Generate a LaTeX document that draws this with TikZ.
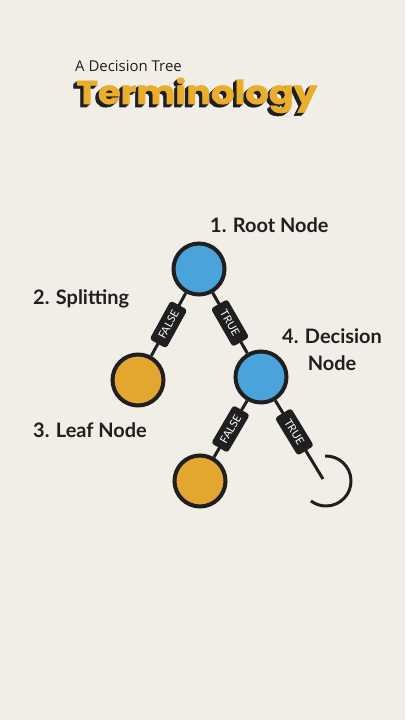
\documentclass[tikz,border=0pt]{standalone}
\usepackage{fontspec}
\setmainfont{Lato}
\newfontfamily\titlefont[BoldFeatures={FakeBold=1.6}]{Poppins}
\newfontfamily\subfont{Open Sans}
\usepackage{graphicx}

\definecolor{paper}{HTML}{F0EEE7}
\definecolor{ink}{HTML}{1F1F1F}
\definecolor{nodeblue}{HTML}{4AA3DA}
\definecolor{leafgold}{HTML}{E3A62E}
\definecolor{titlegold}{HTML}{EBAE2C}

% gold word with a dark shadow stepping down to the left
\newcommand{\shadowword}[1]{%
    \makebox[0pt][l]{\hspace{-3bp}\raisebox{-3bp}{\textcolor{ink}{#1}}}%
    \makebox[0pt][l]{\hspace{-2bp}\raisebox{-2bp}{\textcolor{ink}{#1}}}%
    \makebox[0pt][l]{\hspace{-1bp}\raisebox{-1bp}{\textcolor{ink}{#1}}}%
    \textcolor{titlegold}{#1}}

\begin{document}
\begin{tikzpicture}[x=1bp,y=-1bp,
    treenode/.style={circle,draw=ink,line width=4bp,minimum size=51bp,inner sep=0pt},
    branch/.style={draw=ink,line width=3bp},
    tag/.style={fill=ink,text=white,rounded corners=3bp,sloped,minimum width=44bp,
        minimum height=19bp,inner sep=0pt,font=\fontsize{11}{11}\selectfont},
    term/.style={anchor=base west,inner sep=0pt,text=ink,font=\bfseries\fontsize{20}{27}\selectfont},
    headline/.style={anchor=base west,inner sep=0pt,
        font=\titlefont\bfseries\fontsize{33}{33}\selectfont}]

    % Draw the paper
    \fill[paper] (0,0) rectangle (405,720);

    % Title with its shadow
    \node[anchor=base west,inner sep=0pt,text=ink,font=\subfont\fontsize{15}{15}\selectfont]
        (subtitle) at (75,72) {A Decision Tree};
    \node[headline] (title) at (76,104) {\scalebox{1.12}[1]{\shadowword{Terminology}}};

    % Place the tree nodes
    \node[treenode,fill=nodeblue] (root) at (199,269) {};
    \node[treenode,fill=leafgold] (leafA) at (138,380) {};
    \node[treenode,fill=nodeblue] (decision) at (261,377) {};
    \node[treenode,fill=leafgold] (leafB) at (200,481) {};
    \coordinate (loose) at (323,479);
    \coordinate (hook) at (326,481);

    % Draw the branches
    \draw[branch] (root) -- node[tag] {FALSE} (leafA);
    \draw[branch] (root) -- node[tag] {TRUE} (decision);
    \draw[branch] (decision) -- node[tag] {FALSE} (leafB);
    \draw[branch] (decision) -- node[tag,pos=0.4] {TRUE} (loose);
    \draw[branch] ([shift={(-92:25)}]hook) arc[start angle=-92,end angle=127,radius=25];

    % Name the parts
    \node[term] (rootlabel) at (210,232) {1. Root Node};
    \node[term] (splitlabel) at (33,304) {2. Splitting};
    \node[term] (leaflabel) at (33,437) {3. Leaf Node};
    \node[term,anchor=base,align=center] (decisionlabel) at (332,370) {4. Decision\\Node};
\end{tikzpicture}
\end{document}
